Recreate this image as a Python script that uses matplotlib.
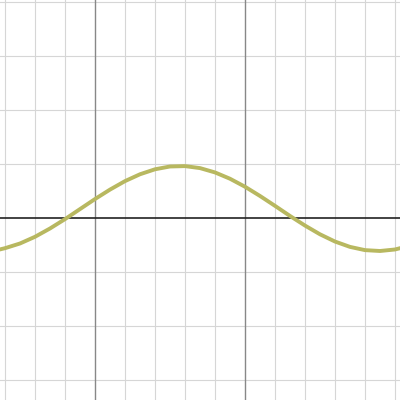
import matplotlib
matplotlib.use("Agg")
import matplotlib.pyplot as plt
import numpy as np

# points (x in grid units, y in grid units)
xs = [-3.3, -3, -2.5, -2, -1.5, -1, -0.5, 0, 0.5, 1, 1.5, 2, 2.5, 3, 3.5, 4, 4.5,
      5, 5.5, 6, 6.5, 7, 7.5, 8, 8.5, 9, 9.5, 10, 10.5]
ys = [-0.600, -0.559, -0.472, -0.348, -0.194, -0.021, 0.165, 0.351, 0.526, 0.683, 0.810,
      0.902, 0.954, 0.961, 0.924, 0.844, 0.727, 0.579, 0.408, 0.225, 0.038,
      -0.140, -0.302, -0.436, -0.535, -0.595, -0.611, -0.583, -0.512]

fig = plt.figure(figsize=(4, 4), dpi=100)
ax = fig.add_axes([0, 0, 1, 1])
xmin, xmax = -95 / 30, 305 / 30
ymin, ymax = -182 / 54, 218 / 54
ax.set_xlim(xmin, xmax)
ax.set_ylim(ymin, ymax)

for gx in range(-3, 11):
    if gx in (0, 5):
        ax.axvline(gx, color="#888888", lw=1.0, zorder=1)
    else:
        ax.axvline(gx, color="#d6d6d6", lw=0.8, zorder=0)
for gy in range(-3, 5):
    if gy == 0:
        ax.axhline(gy, color="#222222", lw=1.2, zorder=2)
    else:
        ax.axhline(gy, color="#d6d6d6", lw=0.8, zorder=0)

ax.plot(xs, ys, color="#b8b860", lw=2.8, zorder=3, solid_capstyle="round")
ax.axis("off")
fig.savefig("out.png", dpi=100)
